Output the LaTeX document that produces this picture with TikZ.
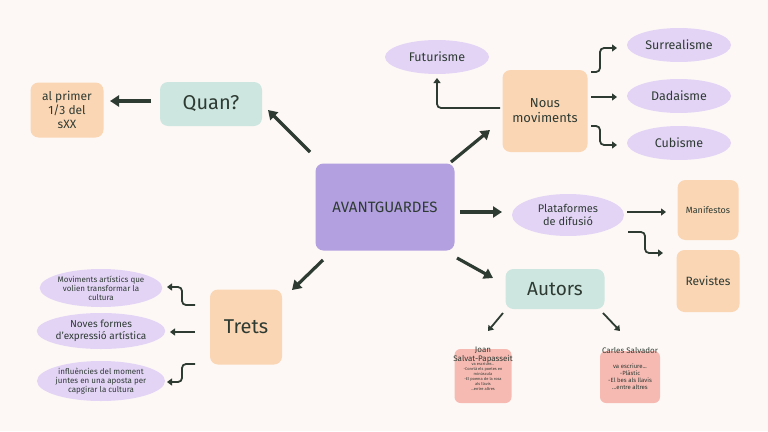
\documentclass[tikz,border=0pt]{standalone}
\usepackage{fontspec}
\setmainfont{Fira Sans}
\usetikzlibrary{shapes.geometric,arrows.meta}
\definecolor{bg}{HTML}{FDF8F5}
\definecolor{mint}{HTML}{CDE6E0}
\definecolor{peach}{HTML}{FAD6B4}
\definecolor{lav}{HTML}{E3D4F6}
\definecolor{purp}{HTML}{B3A0E0}
\definecolor{pink}{HTML}{F6BAB3}
\definecolor{ink}{HTML}{2E3B33}
\begin{document}
\begin{tikzpicture}[x=1pt,y=-1pt,
  box/.style={rounded corners=8pt,inner sep=0pt,align=center,text=ink},
  ell/.style={ellipse,fill=lav,inner sep=0pt,align=center,text=ink},
  arr/.style={draw=ink,line width=3.2pt,-{Triangle[length=9pt,width=11pt]}},
  sarr/.style={draw=ink,line width=1.8pt,rounded corners=4pt,-{Triangle[length=5pt,width=7pt]}}]
\fill[bg] (0,0) rectangle (768,431);
\node[box,fill=purp,minimum width=139pt,minimum height=87pt,font=\fontsize{15}{18}\selectfont] (c) at (385,207) {AVANTGUARDES};
\node[box,fill=mint,minimum width=102pt,minimum height=44pt,font=\fontsize{20}{24}\selectfont] (q) at (211,104) {Quan?};
\node[box,fill=peach,minimum width=73pt,minimum height=55pt,font=\fontsize{12}{14}\selectfont] (p) at (67,110) {al primer\\1/3 del\\sXX};
\node[box,fill=peach,minimum width=85pt,minimum height=82pt,font=\fontsize{13}{15}\selectfont] (n) at (545,111) {Nous\\moviments};
\node[ell,minimum width=104pt,minimum height=34pt,font=\fontsize{12.5}{15}\selectfont] (f) at (437,57) {Futurisme};
\node[ell,minimum width=104pt,minimum height=34pt,font=\fontsize{12.5}{15}\selectfont] (s) at (679,45) {Surrealisme};
\node[ell,minimum width=104pt,minimum height=34pt,font=\fontsize{12.5}{15}\selectfont] (d) at (679,96) {Dadaisme};
\node[ell,minimum width=104pt,minimum height=34pt,font=\fontsize{12.5}{15}\selectfont] (cu) at (679,143) {Cubisme};
\node[ell,minimum width=112pt,minimum height=42pt,font=\fontsize{11}{13}\selectfont] (pl) at (568,215) {Plataformes\\de difusió};
\node[box,fill=peach,minimum width=61pt,minimum height=60pt,font=\fontsize{9}{11}\selectfont] (m) at (708,210) {Manifestos};
\node[box,fill=peach,minimum width=63pt,minimum height=62pt,font=\fontsize{12}{14}\selectfont] (r) at (708,281) {Revistes};
\node[box,fill=mint,minimum width=99pt,minimum height=40pt,font=\fontsize{19}{22}\selectfont] (a) at (555,289) {Autors};
\node[box,fill=pink,minimum width=57pt,minimum height=54pt,font=\fontsize{4}{5}\selectfont,rounded corners=6pt] (j) at (483,376) {va escriure...\\-Conrtà els poetes en\\minúscula\\-El poema de la rosa\\als llavis\\...entre altres};
\node[font=\fontsize{8}{9}\selectfont,text=ink,align=center] (jt) at (483,355) {Joan\\Salvat-Papasseit};
\node[box,fill=pink,minimum width=60pt,minimum height=52pt,font=\fontsize{6}{7}\selectfont,rounded corners=6pt] (k) at (630,377) {va escriure...\\-Plàstic\\-El bes als llavis\\...entre altres};
\node[font=\fontsize{8}{9}\selectfont,text=ink] (kt) at (630,351) {Carles Salvador};
\node[box,fill=peach,minimum width=72pt,minimum height=75pt,font=\fontsize{20}{24}\selectfont] (t) at (246,327) {Trets};
\node[ell,minimum width=110pt,minimum height=38pt,font=\fontsize{8}{9}\selectfont] (e1) at (101,288) {Moviments artístics que\\volien transformar la\\cultura};
\node[ell,minimum width=110pt,minimum height=36pt,font=\fontsize{10}{12}\selectfont] (e2) at (101,331) {Noves formes\\d'expressió artística};
\node[ell,minimum width=110pt,minimum height=40pt,font=\fontsize{8}{9}\selectfont] (e3) at (101,381) {influències del moment\\juntes en una aposta per\\capgirar la cultura};
% arrows
\draw[arr] (310,152) -- (268,110);
\draw[arr] (151,101) -- (110,101);
\draw[arr] (451,162) -- (490,130);
\draw[arr] (460,212) -- (502,212);
\draw[arr] (457,258) -- (493,278);
\draw[arr] (323,260) -- (292,290);
\draw[sarr] (500,108) -- (437,108) -- (437,78);
\draw[sarr] (591,72) -- (600,72) -- (600,48) -- (617,48);
\draw[sarr] (591,97) -- (617,97);
\draw[sarr] (591,126) -- (600,126) -- (600,145) -- (617,145);
\draw[sarr] (627,212) -- (666,212);
\draw[sarr] (628,232) -- (645,232) -- (645,253) -- (663,253);
\draw[sarr] (503,313) -- (488,331);
\draw[sarr] (603,313) -- (620,331);
\draw[sarr] (195,305) -- (182,305) -- (182,287) -- (167,287);
\draw[sarr] (195,332) -- (170,332);
\draw[sarr] (195,364) -- (182,364) -- (182,382) -- (167,382);
\end{tikzpicture}
\end{document}
